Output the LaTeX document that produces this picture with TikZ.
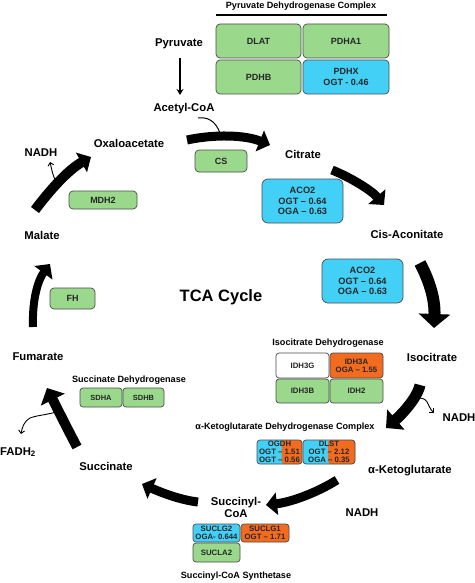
\documentclass[tikz,border=0pt]{standalone}
\usepackage{fontspec}
\setmainfont{Liberation Sans}
\usetikzlibrary{arrows.meta}
\definecolor{gbox}{HTML}{9AD98C}
\definecolor{bbox}{HTML}{43D0F7}
\definecolor{obox}{HTML}{F26B1F}
\begin{document}
\begin{tikzpicture}[x=1pt,y=-1pt,
  met/.style={font=\fontsize{11.3}{12}\selectfont\bfseries, inner sep=0, align=center},
  ttl/.style={font=\fontsize{9.1}{11}\selectfont\bfseries, inner sep=0},
  box/.style={draw=black!70, line width=0.7pt, rounded corners=4pt, inner sep=0, align=center,
              font=\fontsize{9}{10.4}\selectfont\bfseries, text=black!85},
  sbox/.style={box, rounded corners=3pt, font=\fontsize{7.8}{8.2}\selectfont\bfseries},
  bigarrow/.style={line width=9pt, -{Triangle[length=11pt,width=22pt]}},
  widehead/.style={-{Triangle[length=13pt,width=26pt]}},
  hugearrow/.style={line width=12pt, -{Triangle[length=14pt,width=31pt]}},
  wave/.style={line width=0.9pt, -{Straight Barb[length=3pt,width=6pt]}},
  halfsplit/.style={path picture={\fill[obox] ([xshift=#1]path picture bounding box.north) rectangle (path picture bounding box.south east);}}
]
\useasboundingbox (0,0) rectangle (474,583);
\fill[white] (0,0) rectangle (474,583);

% Pyruvate dehydrogenase complex
\node[ttl] (pdht) at (301,6) {Pyruvate Dehydrogenase Complex};
\draw[line width=1.3pt] (216,15) -- (387,15);
\node[box,fill=gbox,minimum width=85pt,minimum height=34pt] (dlat) at (258.5,41) {DLAT};
\node[box,fill=gbox,minimum width=86pt,minimum height=34pt] (pdha) at (346,41) {PDHA1};
\node[box,fill=gbox,minimum width=85pt,minimum height=34pt] (pdhb) at (258.5,77) {PDHB};
\node[box,fill=bbox,minimum width=86pt,minimum height=34pt] (pdhx) at (346,77) {PDHX\\OGT - 0.46};

% metabolites
\node[met] (pyr) at (179,44) {Pyruvate};
\node[met] (acoa) at (184,109) {Acetyl-CoA};
\node[met] (oaa) at (129,143) {Oxaloacetate};
\node[met] (cit) at (303,154) {Citrate};
\node[met] (cis) at (407,234) {Cis-Aconitate};
\node[met] (iso) at (432,357) {Isocitrate};
\node[met] (akg) at (410,471) {α-Ketoglutarate};
\node[met] (scoa) at (236,507.5) {Succinyl-\\CoA};
\node[met] (succ) at (106,466) {Succinate};
\node[met] (fum) at (38,357) {Fumarate};
\node[met] (mal) at (42,235) {Malate};
\node[met] (nadha) at (41,153) {NADH};
\node[met] (nadhb) at (459,418) {NADH};
\node[met] (nadhc) at (362,513) {NADH};
\node[met] (fadh) at (18,452) {FADH\textsubscript{2}};
\node[font=\fontsize{16.5}{18}\selectfont\bfseries, inner sep=0] (tca) at (221,297) {TCA Cycle};

% enzymes
\node[box,fill=gbox,minimum width=52pt,minimum height=22pt] (cs) at (221,161) {CS};
\node[box,fill=gbox,minimum width=68pt,minimum height=18pt] (mdh) at (103,200) {MDH2};
\node[box,fill=gbox,minimum width=45pt,minimum height=21pt] (fh) at (72.5,298.5) {FH};
\node[box,fill=bbox,rounded corners=6pt,minimum width=81pt,minimum height=44pt,
      font=\fontsize{9.2}{10.2}\selectfont\bfseries] (acoa1) at (302.5,201) {ACO2\\OGT – 0.64\\OGA – 0.63};
\node[box,fill=bbox,rounded corners=6pt,minimum width=81pt,minimum height=44pt,
      font=\fontsize{9.2}{10.2}\selectfont\bfseries] (acoa2) at (362.5,281) {ACO2\\OGT – 0.64\\OGA – 0.63};

\node[ttl] (idht) at (328,343) {Isocitrate Dehydrogenase};
\node[sbox,fill=white,minimum width=53pt,minimum height=25pt] (idh3g) at (302.5,365.5) {IDH3G};
\node[sbox,fill=obox,minimum width=53pt,minimum height=25pt] (idh3a) at (356.5,365.5) {IDH3A\\OGA – 1.55};
\node[sbox,fill=gbox,minimum width=53pt,minimum height=24pt] (idh3b) at (302.5,391) {IDH3B};
\node[sbox,fill=gbox,minimum width=53pt,minimum height=24pt] (idh2) at (356.5,391) {IDH2};

\node[ttl] (akgt) at (285,427) {α-Ketoglutarate Dehydrogenase Complex};
\node[sbox,fill=bbox,halfsplit=2pt,minimum width=45pt,minimum height=24pt] (ogdh) at (279.5,452) {OGDH\\OGT – 1.51\\OGT – 0.56};
\node[sbox,fill=bbox,halfsplit=-1pt,minimum width=52pt,minimum height=24pt] (dlst) at (329,452) {DLST\\OGT – 2.12\\OGA – 0.35};

\node[ttl] (sdht) at (129,380) {Succinate Dehydrogenase};
\node[sbox,fill=gbox,font=\fontsize{7.5}{8}\selectfont\bfseries,minimum width=42pt,minimum height=19pt] (sdha) at (101,397.5) {SDHA};
\node[sbox,fill=gbox,font=\fontsize{7.5}{8}\selectfont\bfseries,minimum width=41pt,minimum height=19pt] (sdhb) at (143.5,397.5) {SDHB};

\node[sbox,fill=bbox,minimum width=47pt,minimum height=18pt] (suclg2) at (216.5,533) {SUCLG2\\OGA- 0.644};
\node[sbox,fill=obox,minimum width=48pt,minimum height=18pt] (suclg1) at (265,533) {SUCLG1\\OGT – 1.71};
\node[sbox,fill=gbox,minimum width=47pt,minimum height=19pt] (sucla2) at (216.5,552.5) {SUCLA2};
\node[ttl] (sucst) at (236,576) {Succinyl-CoA Synthetase};

% pyruvate arrow
\draw[line width=1.3pt,-{Stealth[length=6pt,width=7pt]}] ([shift={(1,14)}]pyr.center) -- ([shift={(-4,-14)}]acoa.center);

% cycle arrows
\draw[bigarrow] ([shift={(58,-3)}]oaa.center) .. controls +(28,-6) and +(-25,-10) .. ([shift={(-33,-9)}]cit.center) coordinate[pos=0.4] (j1);
\draw[bigarrow] ([shift={(29,16)}]cit.center) .. controls +(20,8) and +(-12,-14) .. ([shift={(-23,-29)}]cis.center);
\draw[hugearrow] ([shift={(13,29)}]cis.center) .. controls +(10,19) and +(1,-28) .. ([shift={(2,-29)}]iso.center);
\draw[bigarrow,widehead,line width=11pt] ([shift={(-12,28)}]iso.center) .. controls +(-3,14) and +(14,-12) .. ([shift={(-24,-43)}]akg.center) coordinate[pos=0.3] (j5);
\draw[bigarrow] ([shift={(-73,9)}]akg.center) .. controls +(-19,12) and +(26,-3) .. ([shift={(30,-2.5)}]scoa.center);
\draw[bigarrow] ([shift={(-38,-5.5)}]scoa.center) .. controls +(-18,-2) and +(18,8) .. ([shift={(36,18)}]succ.center);
\draw[bigarrow,widehead,line width=10pt] ([shift={(-29,-19)}]succ.center) .. controls +(-8,-15) and +(8,16) .. ([shift={(9,31)}]fum.center) coordinate[pos=0.6] (j8);
\draw[bigarrow,line width=8pt] ([shift={(-5,-30)}]fum.center) .. controls +(-1,-27) and +(-12,16) .. ([shift={(8,29)}]mal.center);
\draw[bigarrow,line width=10pt] ([shift={(-7,-25)}]mal.center) .. controls +(15,-20) and +(-23,13) .. ([shift={(-38,14)}]oaa.center) coordinate[pos=0.45] (j10);

% side branches
\draw[line width=1pt] ([shift={(14,9)}]acoa.center) .. controls +(14,-2) and +(-3,-10) .. (j1);
\draw[wave] (j5) .. controls +(16,-2) and +(-8,-8) .. ([shift={(-25,-5)}]nadhb.center);
\draw[wave] (j10) .. controls +(-5,-8) and +(2,8) .. ([shift={(9,9)}]nadha.center);
\draw[wave] (j8) .. controls +(-14,4) and +(8,-3) .. (30,418) .. controls +(-6,3) and +(1,-6) .. ([shift={(3,-18)}]fadh.center);
\end{tikzpicture}
\end{document}
